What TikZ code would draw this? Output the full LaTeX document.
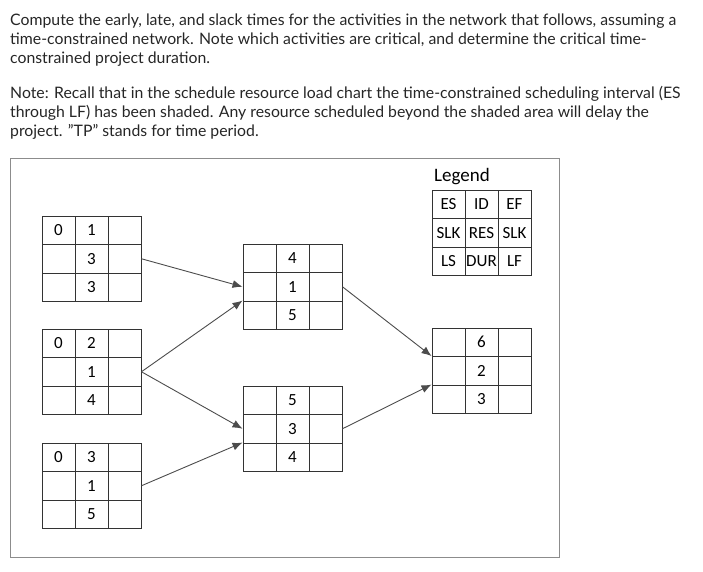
\documentclass[tikz,border=0pt]{standalone}
\usepackage{fontspec}
\setmainfont{Lato}
\newfontfamily\cellfont{Carlito}
\usetikzlibrary{arrows.meta}
\newcommand\aongrid[3]{%
  \foreach \r in {1,2,3}{\foreach \c in {1,2,3}{%
    \node[cell] (#1-\r-\c) at ({#2+16.5+33*(\c-1)},{#3+14.25+28.5*(\r-1)}) {};}}}
\begin{document}
\begin{tikzpicture}[x=1pt,y=-1pt,
  hdr/.style={anchor=base west,inner sep=0,font=\fontsize{15.8}{18}\selectfont,text=black!85},
  cell/.style={draw=black!80,line width=0.9pt,minimum width=33pt,minimum height=28.5pt,inner sep=0},
  ct/.style={inner sep=0,font=\cellfont\fontsize{17}{17}\selectfont},
  link/.style={draw=black!70,line width=0.9pt,-{Latex[length=10pt,width=8pt]}}]
\useasboundingbox (0,0) rectangle (703,571);
\node[hdr] (t1) at (10,25) {Compute the early, late, and slack times for the activities in the network that follows, assuming a};
\node[hdr] (t2) at (10,44) {time-constrained network. Note which activities are critical, and determine the critical time-};
\node[hdr] (t3) at (10,63) {constrained project duration.};
\node[hdr] (t4) at (10,98) {Note: Recall that in the schedule resource load chart the time-constrained scheduling interval (ES};
\node[hdr] (t5) at (10,117) {through LF) has been shaded. Any resource scheduled beyond the shaded area will delay the};
\node[hdr] (t6) at (10,136) {project. "TP" stands for time period.};
\draw[black!45,line width=1pt] (10,158) rectangle (559,557);
\node[anchor=base west,inner sep=0,font=\cellfont\fontsize{19}{19}\selectfont] (lg) at (434,181) {Legend};
\aongrid{lgd}{432}{190}
\aongrid{n1}{42}{216}
\aongrid{n2}{42}{329}
\aongrid{n3}{42}{443}
\aongrid{n4}{243}{244}
\aongrid{n5}{243}{386}
\aongrid{n6}{432}{328}
\node[ct] at (lgd-1-1) {ES}; \node[ct] at (lgd-1-2) {ID}; \node[ct] at (lgd-1-3) {EF};
\node[ct] at (lgd-2-1) {SLK}; \node[ct] at (lgd-2-2) {RES}; \node[ct] at (lgd-2-3) {SLK};
\node[ct] at (lgd-3-1) {LS}; \node[ct] at (lgd-3-2) {DUR}; \node[ct] at (lgd-3-3) {LF};
\node[ct] at (n1-1-1) {0}; \node[ct] at (n1-1-2) {1}; \node[ct] at (n1-2-2) {3}; \node[ct] at (n1-3-2) {3};
\node[ct] at (n2-1-1) {0}; \node[ct] at (n2-1-2) {2}; \node[ct] at (n2-2-2) {1}; \node[ct] at (n2-3-2) {4};
\node[ct] at (n3-1-1) {0}; \node[ct] at (n3-1-2) {3}; \node[ct] at (n3-2-2) {1}; \node[ct] at (n3-3-2) {5};
\node[ct] at (n4-1-2) {4}; \node[ct] at (n4-2-2) {1}; \node[ct] at (n4-3-2) {5};
\node[ct] at (n5-1-2) {5}; \node[ct] at (n5-2-2) {3}; \node[ct] at (n5-3-2) {4};
\node[ct] at (n6-1-2) {6}; \node[ct] at (n6-2-2) {2}; \node[ct] at (n6-3-2) {3};
\draw[link] (n1-2-3.east) -- (n4-2-1.west);
\draw[link] (n2-2-3.east) -- (n4-3-1.north west);
\draw[link] (n2-2-3.east) -- (n5-2-1.west);
\draw[link] (n3-2-3.east) -- (n5-3-1.north west);
\draw[link] (n4-2-3.east) -- (n6-2-1.north west);
\draw[link] (n5-2-3.east) -- (n6-3-1.north west);
\end{tikzpicture}
\end{document}
